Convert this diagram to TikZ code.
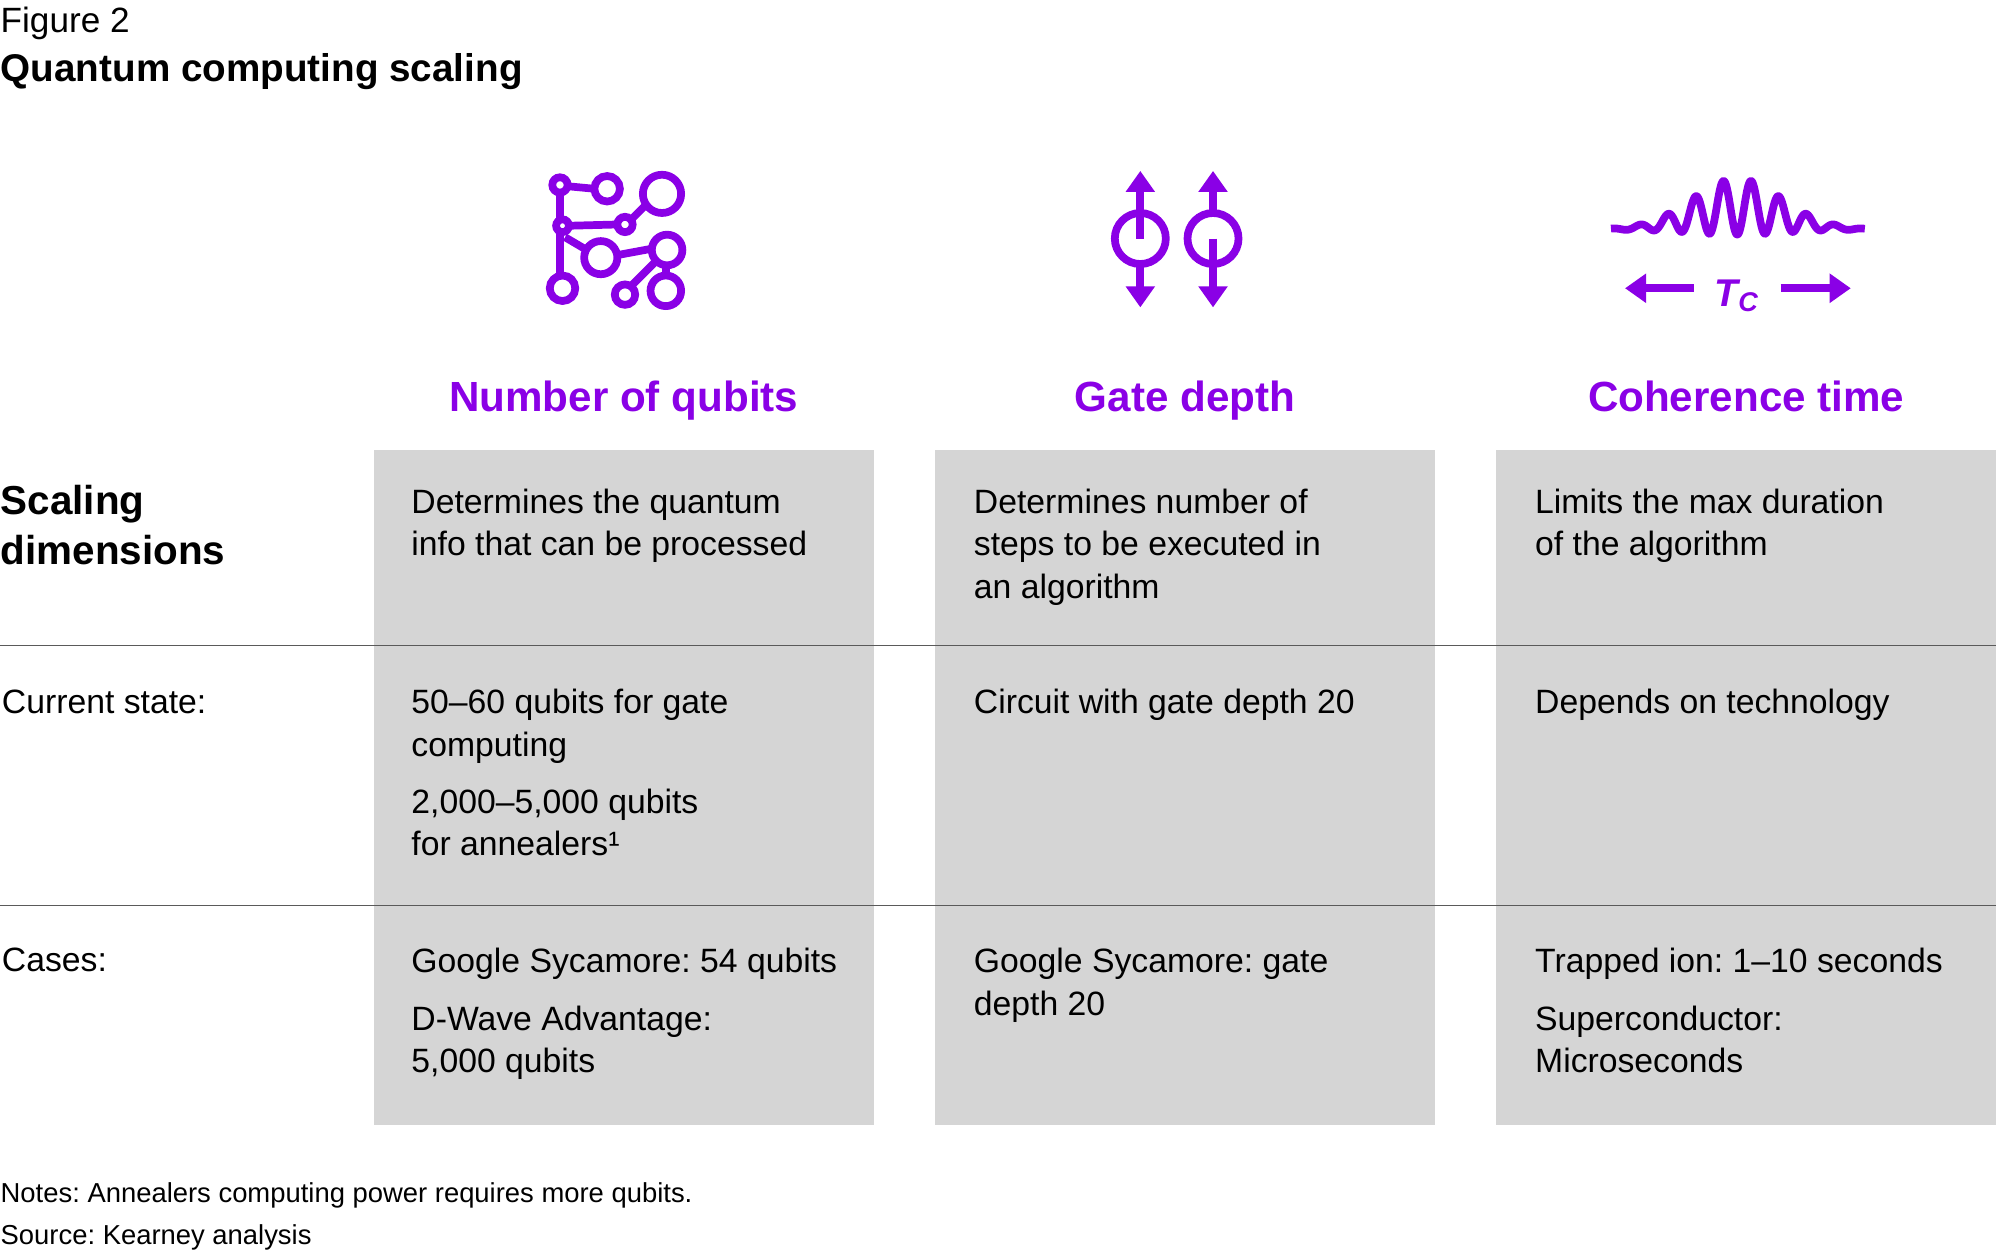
\documentclass[tikz,border=0pt]{standalone}
\usepackage{fontspec}
\setmainfont{Liberation Sans}
\usetikzlibrary{arrows.meta,positioning}
\definecolor{accent}{RGB}{138,0,230}
\definecolor{cellgray}{RGB}{213,213,213}
\definecolor{rulegray}{RGB}{90,90,90}
\frenchspacing
\begin{document}
\begin{tikzpicture}[x=0.012755cm, y=-0.012755cm,
    cell/.style={fill=cellgray, draw=none},
    body/.style={anchor=north west, align=left, font=\fontsize{9.6}{12}\selectfont, inner sep=0pt},
    rowlabel/.style={anchor=north west, font=\fontsize{9.6}{12}\selectfont, inner sep=0pt},
    header/.style={anchor=base, inner sep=0pt, font=\bfseries\fontsize{12}{14}\selectfont, text=accent},
    icon/.style={draw=accent, line width=2.2pt},
    tip/.style={-{Triangle[width=8pt,length=6pt]}, draw=accent, line width=2.2pt}
]
    \useasboundingbox (0,0) rectangle (1568,983);

    % Title
    \node[anchor=west, inner sep=0pt, font=\fontsize{10}{12}\selectfont] (fig) at (0,18) {Figure 2};
    \node[anchor=west, inner sep=0pt, font=\bfseries\fontsize{11}{12}\selectfont] (title) at (0,56) {Quantum computing scaling};

    % Cells
    \fill[cell] (293,353) rectangle (685,882);
    \fill[cell] (733,353) rectangle (1125,882);
    \fill[cell] (1173,353) rectangle (1565,882);

    % Rules
    \draw[rulegray, line width=0.5pt] (0,506) -- (1565,506);
    \draw[rulegray, line width=0.5pt] (0,710) -- (1565,710);

    % Headers
    \node[header] (h1) at (489,323) {Number of qubits};
    \node[header] (h2) at (929,323) {Gate depth};
    \node[header] (h3) at (1369,323) {Coherence time};

    % Row labels
    \node[anchor=north west, align=left, inner sep=0pt, font=\bfseries\fontsize{11.5}{14.2}\selectfont] (scaling) at (0,380) {Scaling\\dimensions};
    \node[rowlabel] (current) at (1,540) {Current state:};
    \node[rowlabel] (cases) at (1,743) {Cases:};

    % Row 1
    \node[body] (d1) at (322,383) {Determines the quantum\\info that can be processed};
    \node[body] (d2) at (763,383) {Determines number of\\steps to be executed in\\an algorithm};
    \node[body] (d3) at (1203,383) {Limits the max duration\\of the algorithm};

    % Row 2
    \node[body] (c1a) at (322,540) {50–60 qubits for gate\\computing};
    \node[body] (c1b) at (322,618) {2,000–5,000 qubits\\for annealers¹};
    \node[body] (c2) at (763,540) {Circuit with gate depth 20};
    \node[body] (c3) at (1203,540) {Depends on technology};

    % Row 3
    \node[body] (e1a) at (322,743) {Google Sycamore: 54 qubits};
    \node[body] (e1b) at (322,788) {D-Wave Advantage:\\5,000 qubits};
    \node[body] (e2) at (763,743) {Google Sycamore: gate\\depth 20};
    \node[body] (e3a) at (1203,743) {Trapped ion: 1–10 seconds};
    \node[body] (e3b) at (1203,788) {Superconductor:\\Microseconds};

    % Notes
    \node[anchor=west, inner sep=0pt, font=\fontsize{7.8}{10}\selectfont] (notes) at (0,937) {Notes: Annealers computing power requires more qubits.};
    \node[anchor=west, inner sep=0pt, font=\fontsize{7.8}{10}\selectfont] (source) at (0,970) {Source: Kearney analysis};

    % Qubit icon
    \draw[icon] (439,151) -- (439,216);
    \draw[icon] (445,146) -- (466,148);
    \draw[icon] (446,177) -- (484,176);
    \draw[icon] (495,172) -- (507,160);
    \draw[icon] (484,200) -- (511,195);
    \draw[icon] (495,224) -- (514,205);
    \draw[icon] (522,208) -- (522,216);
    \draw[icon] (443,186) -- (460,196);
    \foreach \cx/\cy/\r in {439/145/6, 476/148/10, 519/152/15, 441/177/5, 490/176/6,
                            471/202/13, 523/196/12, 441/226/10, 490/231/8, 522/228/12}
        \draw[icon, fill=white] (\cx,\cy) circle (\r);

    % Gate depth icon
    \draw[icon] (894,187) circle (20);
    \draw[icon] (951,187) circle (20);
    \draw[tip] (894,187) -- (894,134);
    \draw[tip] (894,207) -- (894,241);
    \draw[tip] (951,167) -- (951,134);
    \draw[tip] (951,187) -- (951,241);

    % Coherence icon
    \draw[icon, line join=round] plot[domain=1263:1462, samples=400]
        (\x, {180-exp(-((\x-1362)/50)^2)*(18-22*cos((\x-1362)*16.5))});
    \draw[tip] (1328,226) -- (1274,226);
    \draw[tip] (1396,226) -- (1451,226);
    \node[text=accent, font=\bfseries\itshape\fontsize{11}{12}\selectfont] (tc) at (1362,232) {T\textsubscript{C}};
\end{tikzpicture}
\end{document}
